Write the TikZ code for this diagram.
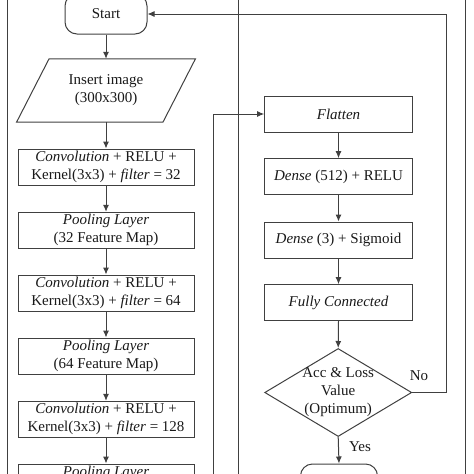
\documentclass[tikz,border=0pt]{standalone}
\usepackage{fontspec}
\setmainfont{Liberation Serif}
\usetikzlibrary{arrows.meta,shapes.geometric,calc}
\begin{document}
\begin{tikzpicture}[x=1pt,y=-1pt,
  every node/.style={font=\fontsize{15}{18}\selectfont, text=black!90},
  ln/.style={draw=black!75, line width=1pt},
  box/.style={ln, rectangle, align=center, minimum height=36pt, inner sep=0pt},
  lbox/.style={box, minimum width=176pt},
  rbox/.style={box, minimum width=147.6pt},
  term/.style={box, rounded corners=12pt, minimum height=40pt},
  conn/.style={ln, -{Latex[length=7pt,width=6pt]}}]
\useasboundingbox (0,0) rectangle (474,474);
\begin{scope}
\clip (0,0) rectangle (474,474);
% panel lines
\draw[ln] (7,-10) -- (7,484);
\draw[ln] (238,-10) -- (238,484);
\draw[ln] (465,-10) -- (465,484);
% left column
\node[term, minimum width=82pt] (start) at (106,14) {Start};
\node[rectangle, minimum width=146pt, minimum height=63pt, inner sep=0pt, align=center] (ins) at (106,90.5) {Insert image\\(300x300)};
\draw[ln] ($(ins.north west)+(16.25,0)$) -- ($(ins.north east)+(16.25,0)$) -- ($(ins.south east)+(-16.25,0)$) -- ($(ins.south west)+(-16.25,0)$) -- cycle;
\node[lbox] (c1) at (106,167) {\textit{Convolution} + RELU +\\Kernel(3x3) + \textit{filter} = 32};
\node[lbox] (p1) at (106,230.3) {\textit{Pooling Layer}\\(32 Feature Map)};
\node[lbox] (c2) at (106,293) {\textit{Convolution} + RELU +\\Kernel(3x3) + \textit{filter} = 64};
\node[lbox] (p2) at (106,356) {\textit{Pooling Layer}\\(64 Feature Map)};
\node[lbox] (c3) at (106,419.3) {\textit{Convolution} + RELU +\\Kernel(3x3) + \textit{filter} = 128};
\node[lbox] (p3) at (106,482) {\textit{Pooling Layer}\\(128 Feature Map)};
\draw[conn] (start.south) -- (ins.north);
\draw[conn] (ins.south) -- (c1.north);
\draw[conn] (c1.south) -- (p1.north);
\draw[conn] (p1.south) -- (c2.north);
\draw[conn] (c2.south) -- (p2.north);
\draw[conn] (p2.south) -- (c3.north);
\draw[conn] (c3.south) -- (p3.north);
% right column
\node[rbox] (fl) at (338.5,114) {\textit{Flatten}};
\node[rbox] (d1) at (338.5,176.7) {\textit{Dense} (512) + RELU};
\node[rbox] (d2) at (338.5,240) {\textit{Dense} (3) + Sigmoid};
\node[rbox] (fc) at (338.5,302.7) {\textit{Fully Connected}};
\node[diamond, ln, minimum width=147pt, minimum height=88pt, inner sep=0pt] (dec) at (338.2,392.5) {};
\node[align=center, inner sep=0pt] (dect) at (dec.center) {Acc \& Loss\\Value\\(Optimum)};
\node[term, minimum width=77pt] (end) at (339,484) {};
\node (no) at (419,376) {No};
\node (yes) at (360,447) {Yes};
\coordinate (lp) at (213,530);
\coordinate (fb) at (446.5,14);
\draw[conn] (p3.south) |- (lp) |- (fl.west);
\draw[conn] (fl.south) -- (d1.north);
\draw[conn] (d1.south) -- (d2.north);
\draw[conn] (d2.south) -- (fc.north);
\draw[conn] (fc.south) -- (dec.north);
\draw[conn] (dec.south) -- (end.north);
\draw[conn] (dec.east) -| (fb) -- (start.east);
\end{scope}
\end{tikzpicture}
\end{document}
